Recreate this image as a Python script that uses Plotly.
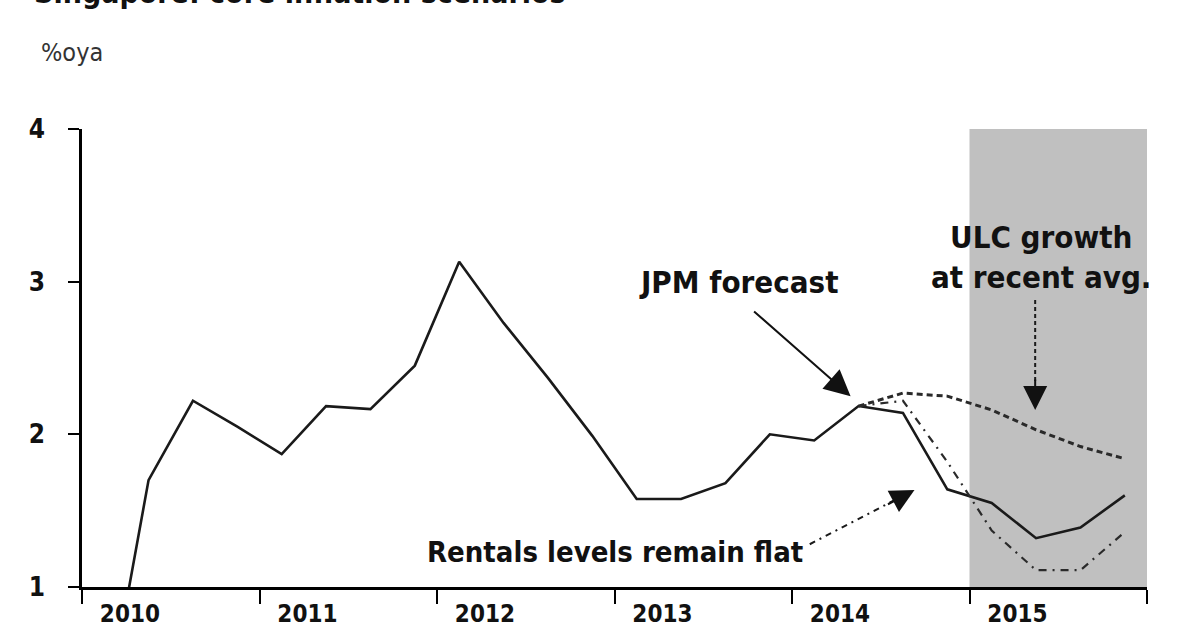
import plotly.graph_objects as go

# ---- data ----
quarters = [f"{y}Q{q}" for y in range(2010, 2016) for q in range(1, 5)]
core_jpm = [0.10, 1.70, 2.22, 2.05,
            1.87, 2.185, 2.165, 2.45,
            3.13, 2.73, 2.37, 1.99,
            1.576, 1.576, 1.68, 2.00,
            1.96, 2.185, 2.14, 1.64,
            1.55, 1.32, 1.39, 1.60]
scen_quarters = ["2014Q2", "2014Q3", "2014Q4", "2015Q1", "2015Q2", "2015Q3", "2015Q4"]
ulc_growth = [2.185, 2.27, 2.25, 2.16, 2.03, 1.92, 1.84]
rentals_flat = [2.185, 2.22, 1.82, 1.37, 1.11, 1.11, 1.36]

year_ticks = [2010, 2011, 2012, 2013, 2014, 2015, 2016]
year_labels = ["2010", "2011", "2012", "2013", "2014", "2015"]
y_ticks = [1, 2, 3, 4]

FONT = "Liberation Sans Narrow, DejaVu Sans Condensed, Arial Narrow, sans-serif"


def qpos(label):
    y, q = label.split("Q")
    return int(y) + (int(q) - 0.5) / 4.0


x_core = [qpos(q) for q in quarters]
x_scen = [qpos(q) for q in scen_quarters]
label_pos = [int(l) + 0.27 for l in year_labels]

fig = go.Figure()

fig.add_trace(go.Scatter(x=x_core, y=core_jpm, mode="lines",
                         line=dict(color="#1a1a1a", width=2.6),
                         showlegend=False, hoverinfo="skip"))
fig.add_trace(go.Scatter(x=x_scen, y=ulc_growth, mode="lines",
                         line=dict(color="#2a2a2a", width=3.0, dash="6px,4px"),
                         showlegend=False, hoverinfo="skip"))
fig.add_trace(go.Scatter(x=x_scen, y=rentals_flat, mode="lines",
                         line=dict(color="#2a2a2a", width=2.2, dash="8px,6px,2px,6px"),
                         showlegend=False, hoverinfo="skip"))

# forecast shading
fig.add_shape(type="rect", xref="x", yref="y", x0=2015, x1=2016, y0=1, y1=4,
              fillcolor="#c0c0c0", line=dict(width=0), layer="below")

# dashed arrow shafts
fig.add_shape(type="line", xref="x", yref="y", x0=2015.37, y0=2.88, x1=2015.37, y1=2.33,
              line=dict(color="#1a1a1a", width=2, dash="4px,3px"))
fig.add_shape(type="line", xref="x", yref="y", x0=2014.10, y0=1.28, x1=2014.58, y1=1.57,
              line=dict(color="#1a1a1a", width=2, dash="6px,5px,2px,5px"))

annotations = [
    dict(text="Singapore: core inflation scenarios", xref="paper", yref="paper",
         x=-0.047, y=1.2555, xanchor="left", yanchor="bottom", showarrow=False,
         font=dict(family=FONT, size=30, color="#111", weight="bold")),
    dict(text="%oya", xref="paper", yref="paper", x=-0.04, y=1.168,
         xanchor="left", yanchor="middle", showarrow=False,
         font=dict(family=FONT, size=25, color="#333")),
    dict(text="JPM forecast", xref="x", yref="y", x=2013.70, y=3.0,
         showarrow=False, font=dict(family=FONT, size=31, color="#111", weight="bold")),
    dict(text="", xref="x", yref="y", x=2014.33, y=2.25, ax=-98, ay=-86,
         showarrow=True, arrowhead=2, arrowsize=2.6, arrowwidth=2, arrowcolor="#111"),
    dict(text="ULC growth<br>at recent avg.", xref="x", yref="y", x=2015.40, y=3.16,
         showarrow=False, font=dict(family=FONT, size=31, color="#111", weight="bold")),
    dict(text="", xref="x", yref="y", x=2015.37, y=2.16, ax=0, ay=-32,
         showarrow=True, arrowhead=2, arrowsize=2.4, arrowwidth=2, arrowcolor="#111"),
    dict(text="Rentals levels remain flat", xref="x", yref="y", x=2013.0, y=1.23,
         showarrow=False, font=dict(family=FONT, size=29, color="#111", weight="bold")),
    dict(text="", xref="x", yref="y", x=2014.69, y=1.635, ax=-28, ay=15,
         showarrow=True, arrowhead=2, arrowsize=2.4, arrowwidth=2, arrowcolor="#111"),
]

fig.update_layout(
    width=1200, height=630,
    margin=dict(l=82, r=53, t=129, b=43, autoexpand=False),
    plot_bgcolor="white", paper_bgcolor="white",
    annotations=annotations,
    xaxis=dict(range=[2010, 2016], showgrid=False, zeroline=False, automargin=False,
               showline=True, linecolor="black", linewidth=3,
               tickmode="array", tickvals=label_pos, ticktext=year_labels,
               ticks="outside", ticklen=3, tickcolor="rgba(0,0,0,0)",
               tickfont=dict(family=FONT, size=24, color="#111", weight="bold"),
               minor=dict(tickmode="array", tickvals=year_ticks, ticks="outside",
                          ticklen=14, tickwidth=2, tickcolor="black", showgrid=False)),
    yaxis=dict(range=[1, 4], showgrid=False, zeroline=False, automargin=False,
               showline=True, linecolor="black", linewidth=2.5,
               tickmode="array", tickvals=y_ticks, ticks="outside",
               ticklen=11, tickwidth=2, tickcolor="black", ticklabelstandoff=18,
               tickfont=dict(family=FONT, size=26, color="#111", weight="bold")),
)

fig.write_html("out.html")
